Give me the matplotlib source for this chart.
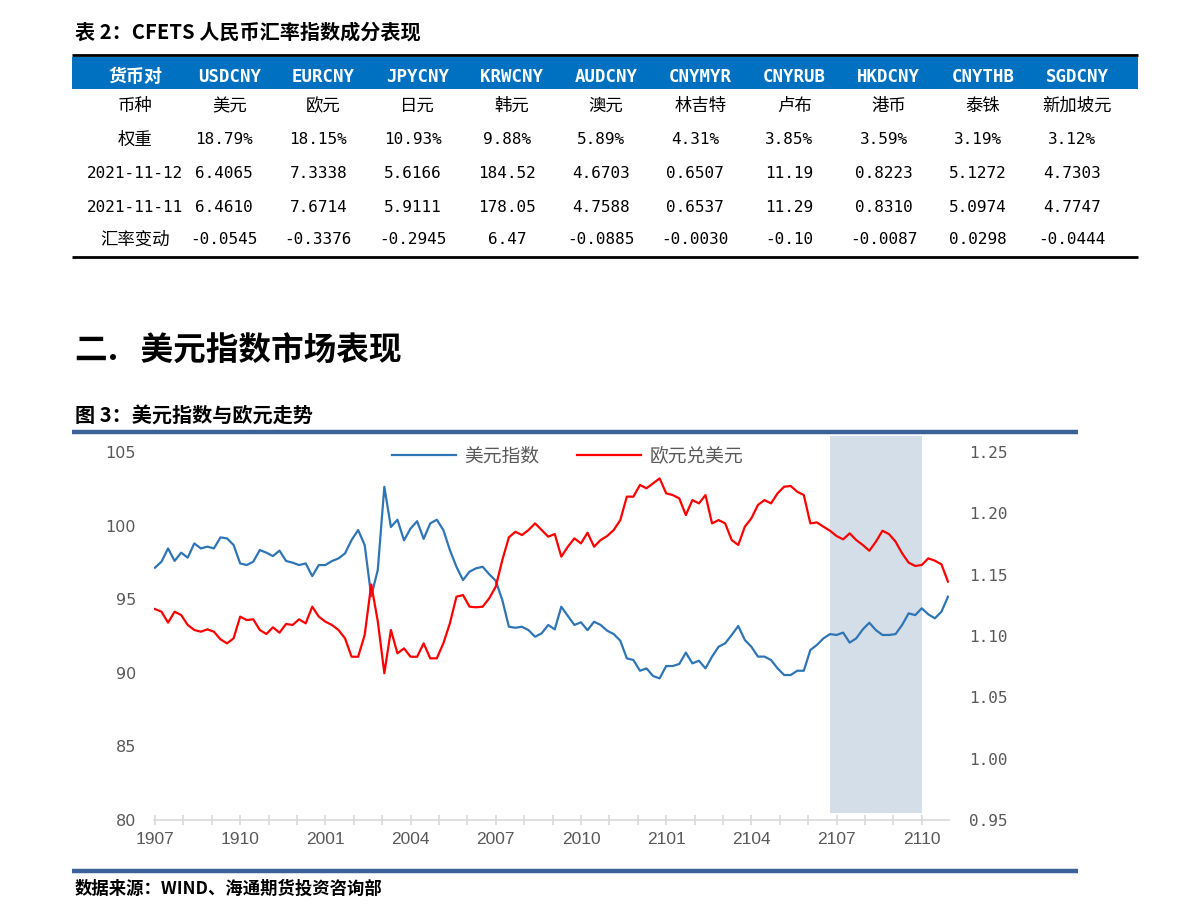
import numpy as np
import pandas as pd
import matplotlib
matplotlib.use("Agg")
import matplotlib.pyplot as plt
import matplotlib.transforms as mtransforms
from matplotlib.patches import Rectangle

plt.rcParams['font.family'] = ['Noto Sans CJK SC', 'DejaVu Sans']

# ---- 表2 数据 ----
pairs = ["USDCNY", "EURCNY", "JPYCNY", "KRWCNY", "AUDCNY",
         "CNYMYR", "CNYRUB", "HKDCNY", "CNYTHB", "SGDCNY"]
currencies = ["美元", "欧元", "日元", "韩元", "澳元", "林吉特", "卢布", "港币", "泰铢", "新加坡元"]
weights = ["18.79%", "18.15%", "10.93%", "9.88%", "5.89%", "4.31%", "3.85%", "3.59%", "3.19%", "3.12%"]
rate_1112 = ["6.4065", "7.3338", "5.6166", "184.52", "4.6703", "0.6507", "11.19", "0.8223", "5.1272", "4.7303"]
rate_1111 = ["6.4610", "7.6714", "5.9111", "178.05", "4.7588", "0.6537", "11.29", "0.8310", "5.0974", "4.7747"]
changes = ["-0.0545", "-0.3376", "-0.2945", "6.47", "-0.0885", "-0.0030", "-0.10", "-0.0087", "0.0298", "-0.0444"]
row_labels = ["币种", "权重", "2021-11-12", "2021-11-11", "汇率变动"]

# ---- 图3 数据（周度）----
dxy = [97.14, 97.55, 98.45, 97.6, 98.16, 97.82, 98.79, 98.45, 98.57, 98.45,
       99.2, 99.13, 98.68, 97.43, 97.32, 97.55, 98.34, 98.16, 97.93, 98.3,
       97.6, 97.48, 97.32, 97.43, 96.57, 97.32, 97.32, 97.59, 97.77, 98.11,
       99.02, 99.7, 98.68, 95.2, 97.0, 102.64, 99.9, 100.4, 99.0, 99.8,
       100.3, 99.1, 100.15, 100.4, 99.7, 98.34, 97.2, 96.3, 96.87, 97.1,
       97.2, 96.7, 96.25,
       94.94, 93.13, 93.06, 93.13, 92.9, 92.45, 92.68, 93.25, 92.95, 94.49,
       93.86, 93.25, 93.43, 92.9, 93.47, 93.25, 92.86, 92.63, 92.18, 90.98,
       90.87, 90.14, 90.3, 89.78, 89.62, 90.46, 90.46, 90.6, 91.37, 90.64,
       90.82, 90.3, 91.1, 91.77, 92.0, 92.57, 93.18, 92.23, 91.77, 91.1,
       91.1, 90.87, 90.3, 89.85, 89.85, 90.14, 90.14, 91.55, 91.89, 92.34,
       92.63, 92.57, 92.73, 92.05, 92.34, 92.95, 93.4, 92.9, 92.57, 92.57,
       92.63, 93.25, 94.04, 93.92, 94.38, 93.97, 93.7, 94.15, 95.17]
eurusd = [1.1220, 1.1198, 1.1109, 1.1198, 1.1171, 1.1090, 1.1049, 1.1035, 1.1054, 1.1035,
          1.0973, 1.0940, 1.0981, 1.1158, 1.1130, 1.1136, 1.1049, 1.1016, 1.1071, 1.1027,
          1.1098, 1.1090, 1.1136, 1.1103, 1.1239, 1.1158, 1.1117, 1.1090, 1.1049, 1.0981,
          1.0831, 1.0831, 1.1008, 1.1420, 1.1120, 1.0696, 1.1049, 1.0859, 1.0899, 1.0831,
          1.0831, 1.0940, 1.0818, 1.0818, 1.0940, 1.1103, 1.1320, 1.1334, 1.1239, 1.1234,
          1.1239, 1.1307,
          1.1402, 1.1619, 1.1804, 1.1850, 1.1823, 1.1864, 1.1918, 1.1864, 1.1810, 1.1831,
          1.1647, 1.1728, 1.1796, 1.1755, 1.1842, 1.1728, 1.1782, 1.1815, 1.1864, 1.1945,
          1.2136, 1.2136, 1.2231, 1.2204, 1.2244, 1.2285, 1.2163, 1.2149, 1.2122, 1.1986,
          1.2108, 1.2081, 1.2149, 1.1918, 1.1945, 1.1918, 1.1782, 1.1742, 1.1891, 1.1959,
          1.2068, 1.2108, 1.2081, 1.2163, 1.2217, 1.2223, 1.2176, 1.2149, 1.1918, 1.1926,
          1.1891, 1.1858, 1.1815, 1.1788, 1.1837, 1.1782, 1.1742, 1.1695, 1.1769, 1.1858,
          1.1831, 1.1769, 1.1674, 1.1598, 1.1571, 1.1579, 1.1633, 1.1614, 1.1584, 1.1443]
dates = pd.date_range("2019-07-17", periods=len(dxy), freq="7D")
shade_period = ("2021-07-07", "2021-10-13")

GREY = '#595959'
RULE = '#3A6298'

W, H = 1191, 918
fig = plt.figure(figsize=(W / 100, H / 100), dpi=100)
bg = fig.add_axes([0, 0, 1, 1])
bg.set_xlim(0, W)
bg.set_ylim(H, 0)
bg.axis('off')

# ---- 表格 ----
bg.text(75, 32, "表 2：CFETS 人民币汇率指数成分表现", fontsize=14.5, weight='bold', va='center', ha='left')
bg.plot([72, 1138], [55, 55], color='black', lw=2, solid_capstyle='butt')
bg.add_patch(Rectangle((72, 57), 1066, 32, color='#0070C0', lw=0))
bg.plot([72, 1138], [257, 257], color='black', lw=2, solid_capstyle='butt')

col_x = 135 + 94.2 * np.arange(len(pairs) + 1)
bg.text(col_x[0], 76, "货币对", color='white', fontsize=13, weight='bold', ha='center', va='center')
for cx, p in zip(col_x[1:], pairs):
    bg.text(cx, 77, p, color='white', fontsize=12.5, weight='bold', family='DejaVu Sans Mono',
            ha='center', va='center')

row_y = [106, 140, 173, 207, 240]
rows = [currencies, weights, rate_1112, rate_1111, changes]
for ry, lab, vals in zip(row_y, row_labels, rows):
    if lab[0].isdigit():
        bg.text(col_x[0], ry, lab, fontsize=11.5, family='DejaVu Sans Mono', ha='center', va='center')
    else:
        bg.text(col_x[0], ry, lab, fontsize=12.5, ha='center', va='center')
    for cx, v in zip(col_x[1:], vals):
        if v[-1].isdigit() or v.endswith('%'):
            bg.text(cx - 5, ry, v, fontsize=11.5, family='DejaVu Sans Mono', ha='center', va='center')
        else:
            bg.text(cx, ry, v, fontsize=12.5, ha='center', va='center')

# ---- 标题 ----
bg.text(75, 350, "二.   美元指数市场表现", fontsize=23.5, weight='bold', va='center', ha='left')
bg.text(75, 415, "图 3：美元指数与欧元走势", fontsize=14.5, weight='bold', va='center', ha='left')
bg.plot([72, 1078], [432, 432], color=RULE, lw=3.2, solid_capstyle='butt')
bg.plot([72, 1078], [871, 871], color=RULE, lw=3.2, solid_capstyle='butt')
bg.text(75, 889, "数据来源：WIND、海通期货投资咨询部", fontsize=12.5, weight='bold', va='center', ha='left')

# ---- 图表 ----
x = np.arange(len(dxy))
ax = fig.add_axes([154.3 / W, 98 / H, 795 / W, 368 / H])
ax.set_facecolor('none')

s0 = (pd.Timestamp(shade_period[0]) - dates[0]).days / 7
s1 = (pd.Timestamp(shade_period[1]) - dates[0]).days / 7
trans = mtransforms.blended_transform_factory(ax.transData, ax.transAxes)
ax.add_patch(Rectangle((s0, 0.019), s1 - s0, 1.024, transform=trans, color='#D3DEE8',
                       lw=0, clip_on=False, zorder=0))

l1, = ax.plot(x, dxy, color='#2E75B6', lw=1.6, label='美元指数', zorder=2)
ax.set_ylim(80, 105)
ax.set_yticks(np.arange(80, 106, 5))
ax.set_xlim(-0.1, 121.2)

major = np.arange(0, len(dxy), 13)
ax.set_xticks(major)
ax.set_xticklabels([d.strftime("%y%m") for d in dates[major]])
ax.set_xticks(np.arange(0, 121.2, 13 / 3), minor=True)

ax2 = ax.twinx()
l2, = ax2.plot(x, eurusd, color='#FF0000', lw=1.6, label='欧元兑美元', zorder=3)
ax2.set_ylim(0.95, 1.25)
ax2.set_yticks(np.arange(0.95, 1.2501, 0.05))
ax2.set_yticklabels([f"{v:.2f}" for v in np.arange(0.95, 1.2501, 0.05)], family='DejaVu Sans Mono')

for a in (ax, ax2):
    for s in a.spines.values():
        s.set_visible(False)
ax.spines['bottom'].set_visible(True)
ax.spines['bottom'].set_color('#D9D9D9')
ax.spines['bottom'].set_linewidth(1.2)

ax.tick_params(axis='y', length=0, pad=13, labelcolor=GREY, labelsize=11.5)
ax2.tick_params(axis='y', length=0, pad=14, labelcolor=GREY, labelsize=11.5)
ax.tick_params(axis='x', which='both', direction='inout', length=7, width=1.2,
               color='#D9D9D9', labelcolor=GREY, labelsize=12.5, pad=5)
for t in ax.get_xticklabels():
    t.set_family('Liberation Sans')
for t in ax.get_yticklabels():
    t.set_family('DejaVu Sans')

leg = ax2.legend([l1, l2], ['美元指数', '欧元兑美元'], loc='center', bbox_to_anchor=(0.52, 0.99),
                 ncol=2, frameon=False, fontsize=13.5, handlelength=3.4, columnspacing=2.0,
                 handletextpad=0.45)
for t in leg.get_texts():
    t.set_color(GREY)

fig.savefig("out.png", dpi=100)
